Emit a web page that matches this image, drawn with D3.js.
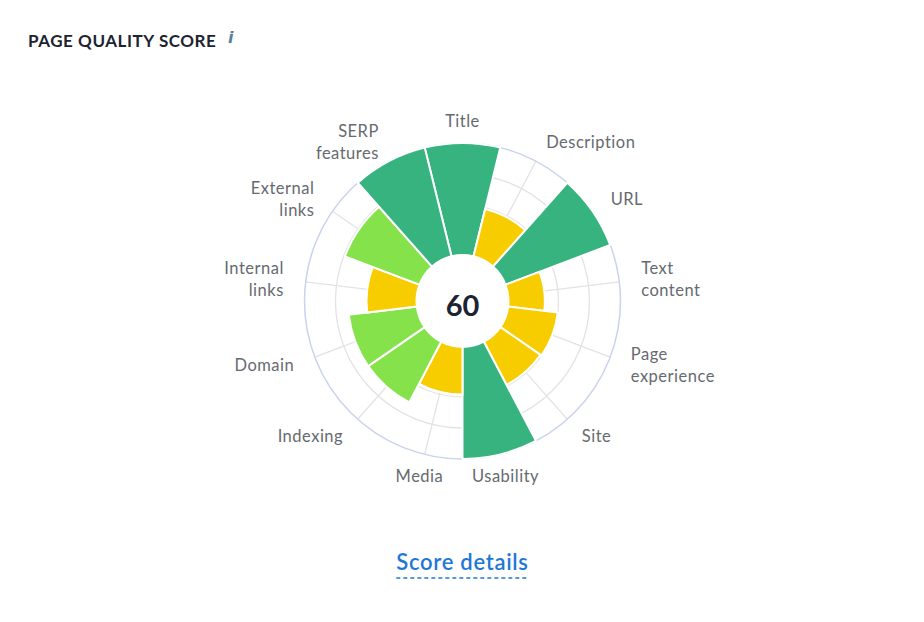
<!DOCTYPE html>
<html>
<head>
<meta charset="utf-8">
<script src="https://cdn.jsdelivr.net/npm/d3@7"></script>
<style>
  html, body { margin: 0; padding: 0; background: #ffffff; }
  svg { display: block; }
</style>
</head>
<body>
<svg id="chart" width="924" height="622"></svg>
<script>
// ---- data ----
const categories = ["Title", "Description", "URL", "Text content", "Page experience", "Site",
  "Usability", "Media", "Indexing", "Domain", "Internal links", "External links", "SERP features"];
const labelLines = [["Title"], ["Description"], ["URL"], ["Text", "content"], ["Page", "experience"], ["Site"],
  ["Usability"], ["Media"], ["Indexing"], ["Domain"], ["Internal", "links"], ["External", "links"], ["SERP", "features"]];
const scores = [100, 49, 100, 39, 50, 49, 100, 48, 65, 65, 50, 74, 100];
const gridTicks = [25, 50, 75];
const totalScore = 60;
const chartTitle = "PAGE QUALITY SCORE";
const linkText = "Score details";

// ---- layout ----
const svg = d3.select("#chart");
const cx = 462.5, cy = 301;
const innerR = 46, outerR = 158;
const r = d3.scaleLinear().domain([0, 100]).range([34, outerR]);
const angle = d3.scaleBand().domain(categories).range([0, 2 * Math.PI]);
const step = angle.bandwidth();
const centerAngle = c => angle(c);  // band start used as category center
const color = v => v >= 80 ? "#36b37e" : (v >= 60 ? "#86e24b" : "#f8cd00");
const FONT = "Lato, 'Open Sans', sans-serif";

// title
svg.append("text").attr("x", 28).attr("y", 47)
  .attr("font-family", FONT).attr("font-size", 17).attr("font-weight", 700)
  .attr("fill", "#1d2330").attr("letter-spacing", 0.55).text(chartTitle);
svg.append("text").attr("x", 228).attr("y", 43)
  .attr("font-family", "'DejaVu Sans', sans-serif").attr("font-style", "italic").attr("font-weight", 700)
  .attr("font-size", 16).attr("fill", "#5c7d99").text("i");

const g = svg.append("g").attr("transform", `translate(${cx},${cy})`);

// grid circles
g.selectAll("circle.grid").data(gridTicks).join("circle")
  .attr("class", "grid").attr("r", d => r(d))
  .attr("fill", "none").attr("stroke", "#e3e3e3").attr("stroke-width", 1.3);

// spokes at category centers
g.selectAll("line.spoke").data(categories).join("line")
  .attr("class", "spoke")
  .attr("x1", d => innerR * Math.sin(centerAngle(d)))
  .attr("y1", d => -innerR * Math.cos(centerAngle(d)))
  .attr("x2", d => outerR * Math.sin(centerAngle(d)))
  .attr("y2", d => -outerR * Math.cos(centerAngle(d)))
  .attr("stroke", "#e3e3e3").attr("stroke-width", 1.3);

// outer circle
g.append("circle").attr("r", outerR).attr("fill", "none")
  .attr("stroke", "#c9d3ec").attr("stroke-width", 1.5);

// bars
const arc = d3.arc();
g.selectAll("path.bar").data(categories).join("path")
  .attr("class", "bar")
  .attr("d", (d, i) => arc({
    innerRadius: innerR,
    outerRadius: r(scores[i]),
    startAngle: centerAngle(d) - step / 2,
    endAngle: centerAngle(d) + step / 2
  }))
  .attr("fill", (d, i) => color(scores[i]))
  .attr("stroke", "#ffffff").attr("stroke-width", 2).attr("stroke-linejoin", "miter");

// center circle and score
g.append("circle").attr("r", innerR).attr("fill", "#ffffff");
g.append("text").attr("x", 0).attr("y", 3)
  .attr("text-anchor", "middle").attr("dominant-baseline", "central")
  .attr("font-family", FONT).attr("font-size", 29).attr("font-weight", 700)
  .attr("fill", "#1d2330").text(totalScore);

// labels
const labelR = 180;
g.selectAll("text.label").data(categories).join("text")
  .attr("class", "label")
  .attr("font-family", FONT).attr("font-size", 16.5).attr("letter-spacing", 0.5)
  .attr("fill", "#666a70")
  .each(function (d, i) {
    const a = centerAngle(d);
    const s = Math.sin(a), c = Math.cos(a);
    const x = labelR * s, y = -labelR * c;
    const anchor = Math.abs(s) < 0.3 ? "middle" : (s > 0 ? "start" : "end");
    const lines = labelLines[i];
    const lh = 22;
    const sel = d3.select(this).attr("text-anchor", anchor);
    lines.forEach((t, k) => {
      sel.append("tspan").attr("x", x)
        .attr("y", y + (k - (lines.length - 1) / 2) * lh)
        .attr("dominant-baseline", "central").text(t);
    });
  });

// link
const link = svg.append("text").attr("x", 462.5).attr("y", 570)
  .attr("text-anchor", "middle")
  .attr("font-family", FONT).attr("font-size", 22).attr("font-weight", 600)
  .attr("letter-spacing", 0.7)
  .attr("fill", "#1f78d6").text(linkText);
const bb = link.node().getBBox();
svg.append("line").attr("x1", bb.x).attr("x2", bb.x + bb.width)
  .attr("y1", 578).attr("y2", 578)
  .attr("stroke", "#1f78d6").attr("stroke-width", 1.5).attr("stroke-dasharray", "4,3");
</script>
</body>
</html>
